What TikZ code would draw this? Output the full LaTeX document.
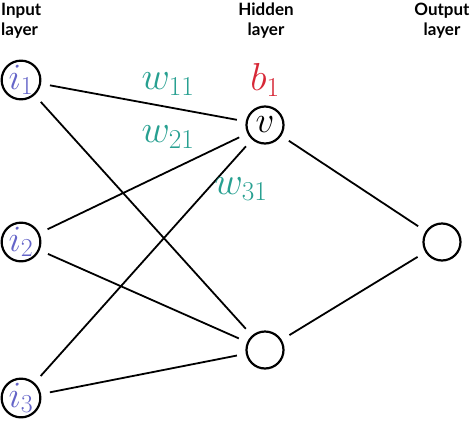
\documentclass[tikz,border=0pt]{standalone}
\usepackage{fix-cm}
\usepackage{xcolor}
\usepackage{amsmath}
\usepackage{fontspec}
\newfontfamily\layerfont{Lato}
\definecolor{inblue}{RGB}{100,100,200}
\definecolor{wteal}{RGB}{40,160,145}
\definecolor{bred}{RGB}{215,40,55}

\begin{document}
\begin{tikzpicture}[x=1pt,y=-1pt,
  neuron/.style={draw,circle,line width=2.2pt,minimum size=37pt,inner sep=0pt,font=\fontsize{37}{40}\selectfont},
  layername/.style={font=\layerfont\bfseries\fontsize{17}{20}\selectfont,align=center},
  wlabel/.style={text=wteal,font=\fontsize{39}{42}\selectfont},
  link/.style={line width=1.8pt,shorten <=9pt,shorten >=9pt}]
\useasboundingbox (0,0) rectangle (474,426);
\node[layername,align=left,anchor=north west,inner sep=0pt] (inlab) at (1,3) {Input\\layer};
\node[layername,anchor=north,inner sep=0pt] (hidlab) at (266,3) {Hidden\\layer};
\node[layername,anchor=north,inner sep=0pt] (outlab) at (442,3) {Output\\layer};
\node[neuron] (in1) at (21,80) {$\color{inblue}i_1$};
\node[neuron] (in2) at (21,242) {$\color{inblue}i_2$};
\node[neuron] (in3) at (21,398) {$\color{inblue}i_3$};
\node[neuron] (hid1) at (265,125) {$v$};
\node[neuron] (hid2) at (265,350) {};
\node[neuron] (out1) at (442,242) {};
\draw[link] (in1)--(hid1);
\draw[link] (in1)--(hid2);
\draw[link] (in2)--(hid1);
\draw[link] (in2)--(hid2);
\draw[link] (in3)--(hid1);
\draw[link] (in3)--(hid2);
\draw[link] (hid1)--(out1);
\draw[link] (hid2)--(out1);
\node[wlabel] (w11) at (168,84) {$w_{11}$};
\node[wlabel] (w21) at (168,137) {$w_{21}$};
\node[wlabel] (w31) at (241,189) {$w_{31}$};
\node[text=bred,font=\fontsize{39}{42}\selectfont] (b1) at (265,80) {$b_1$};
\end{tikzpicture}
\end{document}
